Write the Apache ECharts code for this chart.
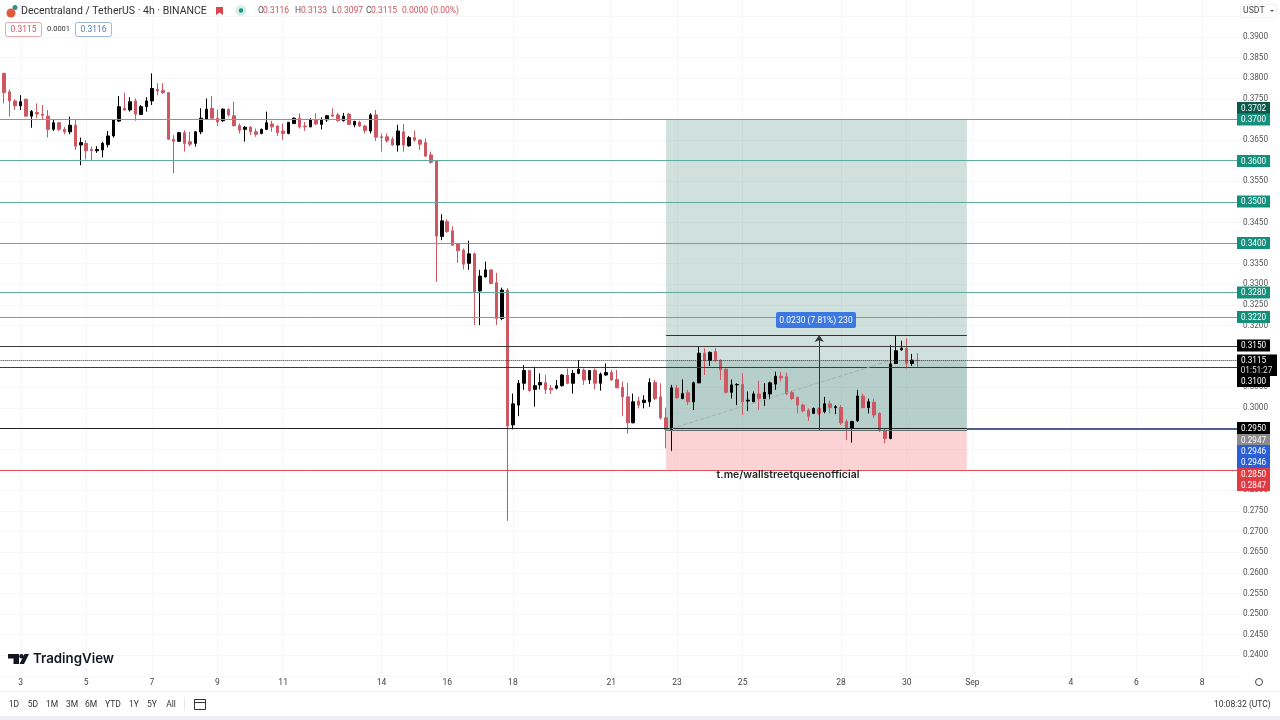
<!DOCTYPE html>
<html>
<head>
<meta charset="utf-8">
<title>Decentraland / TetherUS</title>
<style>
html, body { margin: 0; padding: 0; background: #fff; }
#main { width: 1280px; height: 720px; }
</style>
<script src="https://cdn.jsdelivr.net/npm/echarts@6/dist/echarts.min.js"></script>
</head>
<body>
<div id="main"></div>
<script>
// 4h candles, first one is the last bar of Aug 2
var opens = [
  .3812,.3812,.3767,.3745,.3733,.3749,.3708,.3717,.3713,.3708,
  .3676,.3692,.3676,.3670,.3686,.3638,.3642,.3627,.3624,.3626,
  .3639,.3660,.3696,.3727,.3723,.3745,.3712,.3731,.3745,.3773,
  .3770,.3765,.3652,.3647,.3668,.3646,.3642,.3670,.3700,.3727,
  .3703,.3697,.3724,.3709,.3685,.3676,.3681,.3670,.3666,.3676,
  .3689,.3684,.3672,.3666,.3690,.3703,.3684,.3682,.3700,.3688,
  .3699,.3711,.3711,.3697,.3713,.3687,.3693,.3684,.3672,.3711,
  .3658,.3658,.3652,.3638,.3670,.3636,.3656,.3650,.3644,.3614,
  .3599,.3416,.3452,.3430,.3398,.3383,.3351,.3374,.3284,.3318,
  .3335,.3304,.3217,.3286,.2959,.3007,.3060,.3091,.3045,.3056,
  .3061,.3048,.3048,.3054,.3080,.3060,.3084,.3092,.3068,.3091,
  .3060,.3080,.3086,.3069,.3050,.3027,.2964,.3017,.3013,.3015,
  .3062,.3027,.2976,.2948,.3048,.3023,.3037,.3015,.3061,.3133,
  .3115,.3137,.3116,.3094,.3038,.3056,.3057,.3017,.3015,.3034,
  .3022,.3034,.3058,.3077,.3076,.3037,.3026,.3007,.2995,.2987,
  .2999,.2991,.3010,.3001,.3001,.2967,.2951,.2969,.3029,.3001,
  .3014,.2987,.2946,.2926,.3108,.3141,.3145,.3108,.3116
];
var closes = [
  .3784,.3765,.3745,.3733,.3743,.3708,.3719,.3713,.3710,.3676,
  .3692,.3676,.3670,.3686,.3635,.3644,.3624,.3624,.3627,.3642,
  .3660,.3699,.3731,.3723,.3743,.3713,.3731,.3745,.3775,.3769,
  .3765,.3652,.3647,.3668,.3642,.3640,.3670,.3703,.3725,.3703,
  .3694,.3725,.3711,.3685,.3674,.3681,.3670,.3664,.3676,.3692,
  .3682,.3668,.3666,.3693,.3703,.3682,.3682,.3700,.3689,.3699,
  .3709,.3708,.3697,.3708,.3688,.3695,.3684,.3673,.3711,.3657,
  .3656,.3648,.3638,.3672,.3638,.3656,.3650,.3640,.3611,.3596,
  .3417,.3454,.3428,.3395,.3382,.3349,.3374,.3282,.3320,.3335,
  .3302,.3217,.3286,.2956,.3010,.3060,.3091,.3042,.3054,.3062,
  .3045,.3044,.3054,.3080,.3060,.3084,.3094,.3068,.3091,.3060,
  .3082,.3086,.3068,.3049,.3027,.2964,.3015,.3007,.3019,.3062,
  .3023,.2976,.2948,.3049,.3025,.3035,.3015,.3061,.3133,.3115,
  .3135,.3115,.3092,.3038,.3056,.3057,.3015,.3019,.3034,.3023,
  .3038,.3061,.3077,.3073,.3035,.3023,.3007,.2993,.2980,.2999,
  .2987,.3010,.3001,.3003,.2964,.2951,.2967,.3029,.3001,.3015,
  .2983,.2945,.2926,.3107,.3139,.3145,.3108,.3116,.3115
];
var lows = [
  .3779,.3739,.3707,.3723,.3723,.3707,.3680,.3703,.3700,.3656,
  .3672,.3672,.3664,.3664,.3626,.3589,.3603,.3601,.3619,.3608,
  .3632,.3656,.3694,.3721,.3719,.3697,.3711,.3719,.3735,.3759,
  .3762,.3650,.3569,.3646,.3622,.3635,.3634,.3664,.3699,.3699,
  .3684,.3694,.3707,.3682,.3666,.3646,.3662,.3658,.3664,.3674,
  .3670,.3660,.3650,.3664,.3689,.3678,.3672,.3681,.3686,.3676,
  .3694,.3707,.3695,.3695,.3687,.3681,.3682,.3666,.3666,.3648,
  .3622,.3644,.3636,.3622,.3622,.3634,.3646,.3626,.3610,.3593,
  .3306,.3407,.3425,.3393,.3352,.3336,.3335,.3201,.3201,.3317,
  .3301,.3201,.3213,.2726,.2948,.2980,.3044,.3040,.3003,.3045,
  .3034,.3034,.3045,.3052,.3058,.3035,.3082,.3056,.3058,.3045,
  .3042,.3078,.3066,.3048,.2980,.2938,.2963,.2999,.2999,.3003,
  .3019,.2972,.2902,.2896,.3023,.3021,.3007,.2995,.3060,.3080,
  .3102,.3112,.3068,.3035,.3023,.3007,.2983,.2993,.3014,.2995,
  .3005,.3021,.3044,.3064,.3031,.3019,.2987,.2989,.2969,.2985,
  .2983,.2987,.2987,.2985,.2959,.2922,.2916,.2967,.2999,.2987,
  .2975,.2942,.2914,.2924,.3108,.3139,.3096,.3102,.3097
];
var highs = [
  .3813,.3813,.3773,.3749,.3759,.3751,.3723,.3739,.3735,.3723,
  .3699,.3694,.3682,.3707,.3699,.3656,.3650,.3634,.3635,.3646,
  .3672,.3699,.3757,.3765,.3754,.3751,.3735,.3754,.3812,.3788,
  .3788,.3765,.3662,.3670,.3674,.3670,.3672,.3727,.3751,.3757,
  .3724,.3727,.3727,.3743,.3690,.3684,.3684,.3678,.3678,.3719,
  .3697,.3686,.3690,.3694,.3705,.3715,.3694,.3703,.3715,.3705,
  .3711,.3727,.3716,.3716,.3716,.3697,.3697,.3687,.3715,.3723,
  .3666,.3666,.3658,.3687,.3689,.3660,.3673,.3652,.3654,.3622,
  .3599,.3470,.3458,.3441,.3401,.3387,.3406,.3377,.3335,.3355,
  .3336,.3328,.3292,.3291,.3035,.3068,.3104,.3092,.3100,.3084,
  .3080,.3056,.3068,.3082,.3096,.3092,.3116,.3096,.3092,.3096,
  .3086,.3108,.3092,.3092,.3064,.3061,.3035,.3027,.3031,.3072,
  .3068,.3060,.3001,.3056,.3056,.3069,.3044,.3064,.3149,.3145,
  .3137,.3145,.3118,.3096,.3069,.3060,.3084,.3040,.3040,.3066,
  .3060,.3064,.3088,.3088,.3086,.3042,.3027,.3010,.2999,.3001,
  .3001,.3027,.3018,.3007,.3007,.2972,.2969,.3044,.3035,.3023,
  .3023,.2989,.2950,.3153,.3177,.3163,.3169,.3131,.3133
];

var barCount = 228          // the time axis runs on past the last candle
var barsPerDay = 6
var firstDayBar = 4         // bar of Aug 3 00:00
var tickDays = [0, 2, 4, 6, 8, 11, 13, 15, 18, 20, 22, 25, 27, 29, 32, 34, 36]
var tickLabels = ['3', '5', '7', '9', '11', '14', '16', '18', '21', '23', '25', '28', '30', 'Sep', '4', '6', '8']

var greenLevels = [0.37, 0.36, 0.35, 0.34, 0.328, 0.322]
var blackLevels = [0.315, 0.31]
var entryPrice = 0.295
var stopPrice = 0.285
var lastPrice = 0.3115
var measureTop = 0.3177
var measureBottom = 0.2946
var targetPrice = 0.37

var priceTags = ['0.3702', '0.3700', '0.3600', '0.3500', '0.3400', '0.3280', '0.3220', '0.3150', '0.3115', '01:51:27', '0.3100', '0.2950', '0.2947', '0.2946', '0.2946', '0.2850', '0.2847']
var coveredTicks = ['0.4000', '0.2350', '0.3700', '0.3600', '0.3500', '0.3400', '0.3150', '0.3100', '0.2950', '0.2900', '0.2850']

var categories = []
for (var i = 0; i < barCount; i++) {
  categories.push('bar ' + i)
}
var tickByBar = {}
tickDays.forEach(function (d, n) {
  tickByBar[firstDayBar + d * barsPerDay] = tickLabels[n]
})

var candles = opens.map(function (o, n) {
  return [o, closes[n], lows[n], highs[n]]
})

function levelLine(value, color, width, type) {
  return { yAxis: value, lineStyle: { color: color, width: width, type: type || 'solid' } }
}
function segment(barA, priceA, barB, priceB, style, arrow) {
  var end = { coord: [categories[barB], priceB], lineStyle: style }
  var start = { coord: [categories[barA], priceA], lineStyle: style }
  if (arrow) end.symbol = 'arrow', end.symbolSize = 7
  return [start, end]
}

var toolStart = 122
var toolEnd = 177
var toolMid = 150
var lastEntryBar = 163

var markLines = []
greenLevels.forEach(function (v) { markLines.push(levelLine(v, '#5fab9e', 1)) })
blackLevels.forEach(function (v) { markLines.push(levelLine(v, '#3b3b3b', 1)) })
markLines.push(levelLine(lastPrice, '#333', 1, 'dotted'))
markLines.push(segment(0, entryPrice, toolEnd, entryPrice, { color: '#222', width: 1, type: 'solid' }))
markLines.push(segment(toolEnd, entryPrice, barCount - 1, entryPrice, { color: '#14286e', width: 1.5, type: 'solid' }))
markLines.push(levelLine(stopPrice, '#d8505a', 1))
markLines.push(segment(toolStart, measureTop, toolEnd, measureTop, { color: '#333', width: 1, type: 'solid' }))
markLines.push(segment(toolStart, measureBottom, toolEnd, measureBottom, { color: '#5d6f6c', width: 1, type: 'solid' }))
markLines.push(segment(toolStart, measureBottom, lastEntryBar, lastPrice, { color: '#9fb3af', width: 1, type: 'dashed' }))
markLines.push(segment(toolMid, measureBottom, toolMid, measureTop, { color: '#333', width: 1, type: 'solid' }, true))

function txt(x, y, text, font, fill, align) {
  return {
    type: 'text', x: x, y: y, z: 120, silent: true,
    style: { text: text, font: font, fill: fill, textAlign: align || 'left', textVerticalAlign: 'middle' }
  }
}
function box(x, y, w, h, fill, stroke, r) {
  return {
    type: 'rect', z: 110, silent: true,
    shape: { x: x, y: y, width: w, height: h, r: r || 0 },
    style: { fill: fill, stroke: stroke || null, lineWidth: 1 }
  }
}
function poly(points, fill) {
  return { type: 'polygon', z: 120, silent: true, shape: { points: points }, style: { fill: fill } }
}
function dot(x, y, r, fill) {
  return { type: 'circle', z: 120, silent: true, shape: { cx: x, cy: y, r: r }, style: { fill: fill } }
}

var small = '8.5px Roboto'
var chrome = [
  // coin icon, title, flag, status dot
  dot(11, 13, 4.5, '#e2593c'), dot(15, 7.5, 2.5, '#2f8f8a'),
  txt(21, 11, 'Decentraland / TetherUS · 4h · BINANCE', '10.5px Roboto', '#333'),
  poly([[216, 7], [223, 7], [223, 15], [219.5, 12.5], [216, 15]], '#d9444f'),
  dot(241, 10.5, 5.5, '#d8efe9'), dot(241, 10.5, 2.2, '#129a80'),
  // ohlc legend
  txt(258, 11, 'O', small, '#555'), txt(263, 11, '0.3116', small, '#c9535f'),
  txt(295, 11, 'H', small, '#555'), txt(301, 11, '0.3133', small, '#c9535f'),
  txt(332, 11, 'L', small, '#555'), txt(337, 11, '0.3097', small, '#c9535f'),
  txt(366, 11, 'C', small, '#555'), txt(371, 11, '0.3115', small, '#c9535f'),
  txt(402, 11, '0.0000 (0.00%)', small, '#c9535f'),
  // sell / buy boxes
  box(5.5, 22.5, 36, 14, '#fff', '#e4a9ae', 2), txt(23.5, 30, '0.3115', small, '#c9535f', 'center'),
  txt(47, 29.5, '0.0001', '7.5px Roboto', '#333'),
  box(75.5, 22.5, 36, 14, '#fff', '#9db8d8', 2), txt(93.5, 30, '0.3116', small, '#4f7fb5', 'center'),
  // currency selector
  box(1240.5, 4.5, 36, 13, '#fff', '#f0f1f3', 2),
  txt(1243, 11, 'USDT', '8.7px Roboto', '#444'),
  poly([[1270, 10], [1274, 10], [1272, 12]], '#555'),
  // watermark logo
  poly([[8, 654], [19, 654], [19, 664], [13.5, 664], [13.5, 658.5], [8, 658.5]], '#131722'),
  dot(21.5, 656.2, 2.2, '#131722'),
  poly([[24.5, 654], [29, 654], [24, 664], [19.5, 664]], '#131722'),
  txt(33, 659, 'TradingView', '600 13.3px Inter', '#131722'),
  // measure label and watermark text on the position tool
  box(776, 312, 80, 16, '#3b78e0', null, 2),
  txt(816, 320.5, '0.0230 (7.81%) 230', '8.5px Roboto', '#fff', 'center'),
  txt(788, 475, 't.me/wallstreetqueenofficial', '600 10.5px Inter', '#1c2320', 'center'),
  // bottom toolbar
  box(0, 691, 1280, 1, '#eceef2'),
  box(0, 716, 1280, 4, '#eef0f4'),
  box(184, 697, 1, 14, '#e8eaee'),
  txt(14, 704.5, '1D', small, '#333', 'center'), txt(33, 704.5, '5D', small, '#333', 'center'),
  txt(52, 704.5, '1M', small, '#333', 'center'), txt(72, 704.5, '3M', small, '#333', 'center'),
  txt(91, 704.5, '6M', small, '#333', 'center'), txt(113, 704.5, 'YTD', small, '#333', 'center'),
  txt(134, 704.5, '1Y', small, '#333', 'center'), txt(152, 704.5, '5Y', small, '#333', 'center'),
  txt(171, 704.5, 'All', small, '#333', 'center'),
  box(194.5, 699.5, 11, 10, 'none', '#333'), box(194, 702, 12, 1, '#333'),
  txt(1214, 704.5, '10:08:32 (UTC)', small, '#333'),
  { type: 'circle', z: 120, silent: true, shape: { cx: 1259, cy: 682, r: 3.5 }, style: { fill: 'none', stroke: '#444', lineWidth: 1 } }
]

// price tags on the right scale, same order as priceTags
var tagCenters = [108, 119.5, 161, 201.5, 243, 292.5, 317, 345.5, 360.5, 370, 381, 428, 440, 451, 462.5, 474, 485]
var tagColors = ['#0b5a4c', '#13907c', '#13907c', '#13907c', '#13907c', '#13907c', '#13907c', '#000', '#000', '#000', '#000', '#000', '#8a8a8f', '#2a5fd8', '#2a5fd8', '#e03a42', '#e03a42']
priceTags.forEach(function (t, n) {
  var wide = n === 8 || n === 9
  chrome.push(box(1237, tagCenters[n] - 6, wide ? 40 : 33, 12, tagColors[n]))
  chrome.push(txt(1253.5 + (n === 9 ? 3 : 0), tagCenters[n] + 0.5, t, '8.2px Roboto', n === 9 ? '#ddd' : '#fff', 'center'))
})

var myChart = echarts.init(document.getElementById('main'))
var option = {
  animation: false,
  backgroundColor: '#fff',
  textStyle: { fontFamily: 'Roboto' },
  grid: { left: -1.3, top: -4.2, width: 1241.7, height: 680.1, outerBoundsMode: 'none' },
  xAxis: {
    type: 'category',
    data: categories,
    boundaryGap: false,
    axisLine: { show: false },
    axisTick: { show: false },
    axisLabel: {
      margin: 2,
      fontSize: 8.5,
      color: '#444',
      interval: function (index) { return tickByBar[index] !== undefined },
      formatter: function (value, index) { return tickByBar[index] || '' }
    },
    splitLine: {
      show: true,
      interval: function (index) { return tickByBar[index] !== undefined },
      lineStyle: { color: '#f6f7f9', width: 1 }
    }
  },
  yAxis: {
    type: 'value',
    position: 'right',
    min: 0.235,
    max: 0.4,
    interval: 0.005,
    scale: true,
    axisLine: { show: false },
    axisTick: { show: false },
    axisLabel: {
      margin: 2.5,
      fontSize: 8.2,
      color: '#555',
      padding: [3, 0, 0, 0],
      formatter: function (v) {
        var s = v.toFixed(4)
        return coveredTicks.indexOf(s) >= 0 ? '' : s
      }
    },
    splitLine: { show: true, lineStyle: { color: '#f6f7f9', width: 1 } }
  },
  series: [{
    type: 'candlestick',
    data: candles,
    barWidth: 3,
    itemStyle: {
      color: '#000',
      color0: '#cd5864',
      borderColor: '#000',
      borderColor0: '#cd5864',
      borderWidth: 1
    },
    markArea: {
      silent: true,
      data: [
        [{ coord: [categories[toolStart], targetPrice], itemStyle: { color: 'rgba(60,130,112,0.24)' } }, { coord: [categories[toolEnd], measureBottom] }],
        [{ coord: [categories[toolStart], lastPrice], itemStyle: { color: 'rgba(40,110,100,0.15)' } }, { coord: [categories[toolEnd], measureBottom] }],
        [{ coord: [categories[toolStart], measureBottom], itemStyle: { color: 'rgba(245,150,155,0.42)' } }, { coord: [categories[toolEnd], stopPrice] }]
      ]
    },
    markLine: {
      silent: true,
      symbol: 'none',
      precision: 4,
      label: { show: false },
      data: markLines
    }
  }],
  graphic: { elements: chrome }
}
myChart.setOption(option)
</script>
</body>
</html>
